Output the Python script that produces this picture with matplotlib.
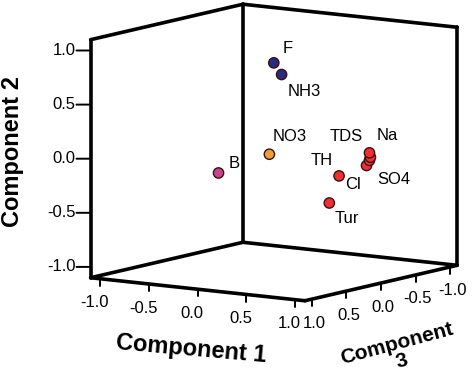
import matplotlib

matplotlib.use("Agg")
import matplotlib.pyplot as plt
from mpl_toolkits.mplot3d import proj3d

plt.rcParams["font.family"] = ["Liberation Sans", "DejaVu Sans"]

# component loadings (rotated space)
labels = ["F", "NH3", "NO3", "B", "Na", "TDS", "TH", "SO4", "Cl", "Tur"]
comp1 = [0.07, 0.15, 0.38, 0.00, 0.91, 0.92, 0.91, 0.88, 0.74, 0.64]
comp2 = [0.85, 0.75, 0.11, -0.07, 0.07, 0.03, 0.00, -0.05, -0.13, -0.39]
comp3 = [0.10, 0.10, 0.60, 0.80, -0.10, -0.10, -0.10, -0.10, 0.10, 0.10]
colors = ["#262c80", "#262c80", "#f0a030", "#c8448f", "#ee3035", "#ee3035",
          "#ee3035", "#ee3035", "#ee3035", "#ee3035"]
# label offset from its point [px]
lab_dx = [14, 23, 20, 16, 18, -24, -48, 27, 14, 18]
lab_dy = [14, -17, 18, 9, 17, 21, 0, -14, -9, -16]

ticks = [-1.0, -0.5, 0.0, 0.5, 1.0]
tick_text = [f"{t:.1f}" for t in ticks]
LIM = 1.1

fig = plt.figure(figsize=(4.74, 3.73), dpi=100)
ax = fig.add_axes([0.2388, 0.1603, 0.6603, 0.8391], projection="3d",
                  computed_zorder=False)
ax.set_proj_type("ortho")
ax.view_init(elev=9.1, azim=34.2)
ax.set_box_aspect((136, 130, 121), zoom=1.3824)

# x = Component 3, y = Component 1, z = Component 2
ax.set_xlim(-LIM, LIM)
ax.set_ylim(-LIM, LIM)
ax.set_zlim(-LIM, LIM)
ax.grid(False)
for axis in (ax.xaxis, ax.yaxis, ax.zaxis):
    axis.set_pane_color((1, 1, 1, 0))
    axis.line.set_color("none")
    axis.set_ticks([])

M = ax.get_proj()


def label_at(x, y, z, s, dx, dy, ha="center"):
    """2D annotation at the projected 3D point, shifted by (dx, dy) px."""
    px, py, _ = proj3d.proj_transform(x, y, z, M)
    ax.annotate(s, xy=(px, py), xycoords="data", xytext=(dx, dy),
                textcoords="offset pixels", fontsize=12, ha=ha, va="center",
                annotation_clip=False, zorder=4)


lo, hi = -LIM, LIM
line_kw = dict(color="black", solid_capstyle="round", clip_on=False, zorder=1)

# box frame: back walls and floor
edges = [
    ((lo, lo), (lo, lo), (lo, hi)),   # back vertical
    ((hi, hi), (lo, lo), (lo, hi)),   # left vertical
    ((lo, lo), (hi, hi), (lo, hi)),   # right vertical
    ((lo, hi), (lo, lo), (hi, hi)),   # top left
    ((lo, lo), (lo, hi), (hi, hi)),   # top right
    ((lo, hi), (lo, lo), (lo, lo)),   # floor back left
    ((lo, lo), (lo, hi), (lo, lo)),   # floor back right
    ((hi, hi), (lo, hi), (lo, lo)),   # floor front left
    ((lo, hi), (hi, hi), (lo, lo)),   # floor front right
]
for xs, ys, zs in edges:
    ax.plot(xs, ys, zs, lw=2.6, **line_kw)

# ticks and tick labels
tk = 0.065
for t, s in zip(ticks, tick_text):
    # Component 1 (front-left floor edge)
    ax.plot((hi, hi), (t, t), (lo, lo - tk), lw=1.4, **line_kw)
    label_at(hi, t, lo, s, -6, -24)
    # Component 3 (front-right floor edge)
    ax.plot((t, t), (hi, hi), (lo, lo - tk), lw=1.4, **line_kw)
    label_at(t, hi, lo, s, 2, -24)
    # Component 2 (left vertical edge)
    ax.plot((hi, hi + 0.065), (lo, lo - 0.099), (t, t), lw=1.4, **line_kw)
    label_at(hi, lo, t, s, -15, 0, ha="right")

ax.scatter(comp3, comp1, comp2, s=55, c=colors, edgecolors="#3a1010",
           linewidths=1.0, depthshade=False, clip_on=False, zorder=3)
for i, lab in enumerate(labels):
    label_at(comp3[i], comp1[i], comp2[i], lab, lab_dx[i], lab_dy[i])

# axis titles placed by hand (SPSS-style perspective)
fig.text(0.026, 0.595, "Component 2", rotation=90, fontsize=17,
         fontweight="bold", ha="center", va="center")
fig.text(0.403, 0.065, "Component 1", rotation=-5, fontsize=17,
         fontweight="bold", ha="center", va="center")
fig.text(0.842, 0.055, "Component\n3", rotation=15, fontsize=15,
         fontweight="bold", ha="center", va="center", linespacing=0.95)

fig.savefig("out.png", dpi=100)
